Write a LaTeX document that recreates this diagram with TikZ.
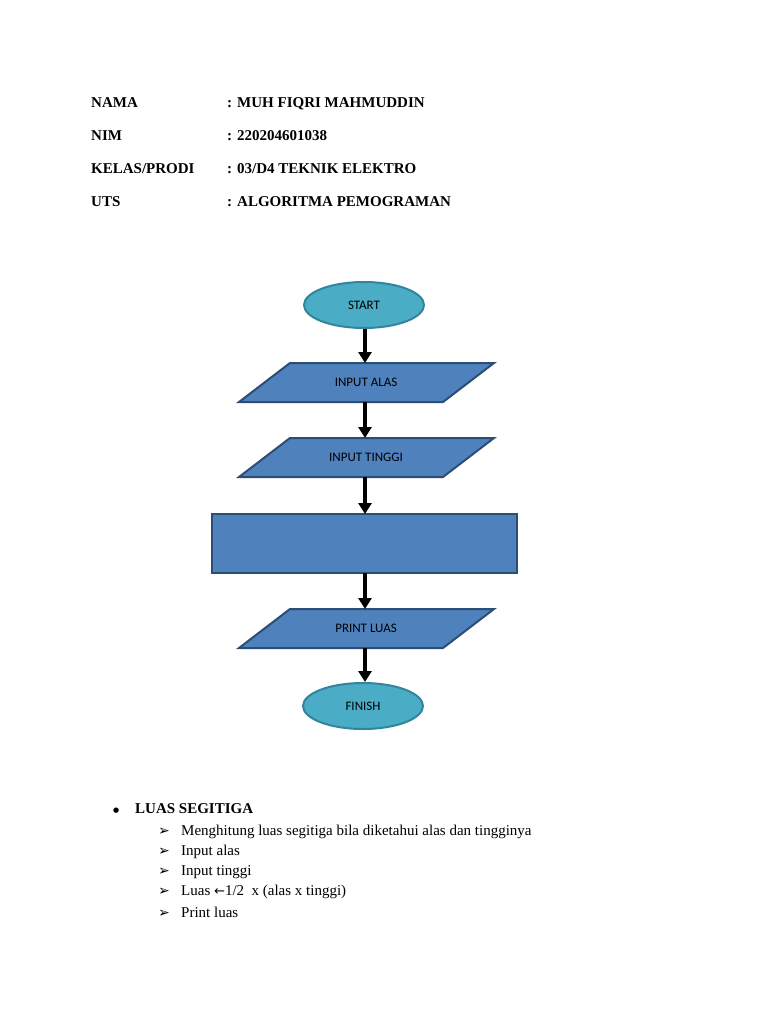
\documentclass[tikz,border=0pt]{standalone}
\usepackage{fontspec}
\setmainfont{Liberation Serif}
\newfontfamily\carfont{Carlito}
\newfontfamily\dvfont{DejaVu Sans}
\usetikzlibrary{shapes.geometric,arrows.meta}
\definecolor{iofill}{HTML}{4F81BD}
\definecolor{iodraw}{HTML}{2C4D75}
\definecolor{tfill}{HTML}{4BACC6}
\definecolor{tdraw}{HTML}{31859C}
\begin{document}
\begin{tikzpicture}[x=1pt,y=-1pt,
  hdr/.style={anchor=base west,inner sep=0,font=\fontsize{15}{17}\selectfont\bfseries},
  li/.style={anchor=base west,inner sep=0,font=\fontsize{15}{17}\selectfont},
  lbl/.style={font=\carfont\fontsize{13}{15}\selectfont},
  term/.style={ellipse,draw=tdraw,line width=2pt,fill=tfill,minimum width=120,minimum height=46,inner sep=0,lbl},
  io/.style={draw=iodraw,line width=2pt,fill=iofill},
  flow/.style={-{Triangle[length=11pt,width=13pt]},line width=3.5pt}]
\useasboundingbox (0,0) rectangle (768,1024);
\fill[white] (0,0) rectangle (768,1024);
% header
\node[hdr] (n1) at (91,108) {NAMA};
\node[hdr] (v1) at (227,108) {: MUH FIQRI MAHMUDDIN};
\node[hdr] (n2) at (91,141) {NIM};
\node[hdr] (v2) at (227,141) {: 220204601038};
\node[hdr] (n3) at (91,174) {KELAS/PRODI};
\node[hdr] (v3) at (227,174) {: 03/D4 TEKNIK ELEKTRO};
\node[hdr] (n4) at (91,207) {UTS};
\node[hdr] (v4) at (227,207) {: ALGORITMA PEMOGRAMAN};
% flowchart
\node[term] (start) at (364,305) {START};
\draw[io] (290,363) -- (494,363) -- (443,402) -- (239,402) -- cycle;
\node[lbl] (ia) at (366,382.5) {INPUT ALAS};
\draw[io] (290,438) -- (494,438) -- (443,477) -- (239,477) -- cycle;
\node[lbl] (it) at (366,457.5) {INPUT TINGGI};
\draw[io] (212,514) rectangle (517,573);
\coordinate (prT) at (365,514);
\coordinate (prB) at (365,573);
\draw[io] (290,609) -- (494,609) -- (443,648) -- (239,648) -- cycle;
\node[lbl] (pl) at (366,628.5) {PRINT LUAS};
\node[term] (fin) at (363,706) {FINISH};
\coordinate (iaT) at (365,363); \coordinate (iaB) at (365,402);
\coordinate (itT) at (365,438); \coordinate (itB) at (365,477);
\coordinate (plT) at (365,609); \coordinate (plB) at (365,648);
\draw[flow] (start.south -| iaT) -- (iaT);
\draw[flow] (iaB) -- (itT);
\draw[flow] (itB) -- (prT);
\draw[flow] (prB) -- (plT);
\draw[flow] (plB) -- (fin.north -| plB);
% list
\node[li] (b0) at (113,812) {\dvfont\fontsize{7}{8}\selectfont ●};
\node[hdr] (t0) at (135,813) {LUAS SEGITIGA};
\foreach \y/\t [count=\i] in {835/Menghitung luas segitiga bila diketahui alas dan tingginya,855/Input alas,875/Input tinggi,895/{Luas {\dvfont\fontsize{13}{15}\selectfont ←}1/2\enspace x (alas x tinggi)},917/Print luas}{
  \node[li] (a\i) at (158,\y) {\dvfont\fontsize{14}{15}\selectfont ➢};
  \node[li] (l\i) at (181,\y) {\t};
}
\end{tikzpicture}
\end{document}
